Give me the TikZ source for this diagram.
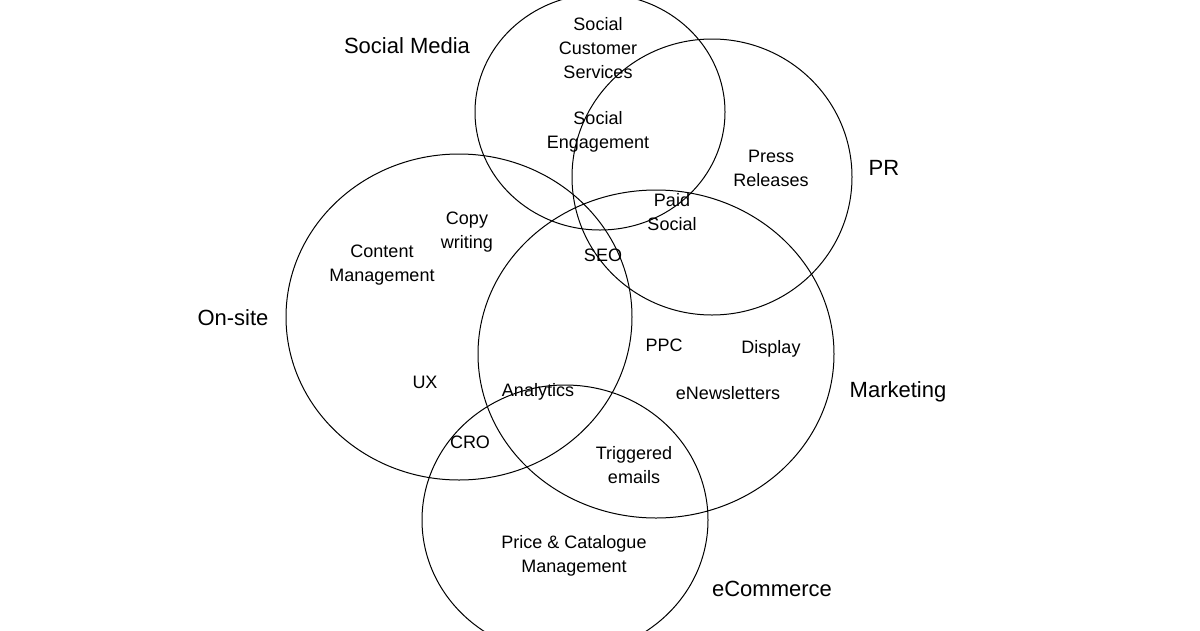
\documentclass[tikz,border=0pt]{standalone}
\usepackage{fontspec}
\setmainfont{Liberation Sans}
\begin{document}
\begin{tikzpicture}[x=1pt,y=-1pt,
  ring/.style={draw,line width=1pt},
  lbl/.style={font=\fontsize{18}{24}\selectfont,align=center},
  ttl/.style={font=\fontsize{22}{26}\selectfont}]
\useasboundingbox (0,0) rectangle (1200,630);
\begin{scope}
\clip (0,0) rectangle (1200,630);
\draw[ring] (600,112) ellipse [x radius=125,y radius=118];
\draw[ring] (712,177) ellipse [x radius=140,y radius=138];
\draw[ring] (459,317) ellipse [x radius=173,y radius=163];
\draw[ring] (656,354) ellipse [x radius=178,y radius=164];
\draw[ring] (565,520) ellipse [x radius=143,y radius=135];
\end{scope}
\node[ttl] (tsm) at (407,46) {Social Media};
\node[ttl] (tpr) at (884,168) {PR};
\node[ttl] (tos) at (233,318) {On-site};
\node[ttl] (tmk) at (898,392) {Marketing};
\node[ttl] (tec) at (772,589) {eCommerce};
\node[lbl] (scs) at (598,48) {Social\\Customer\\Services};
\node[lbl] (se) at (598,132) {Social\\Engagement};
\node[lbl] (prr) at (771,168) {Press\\Releases};
\node[lbl] (ps) at (672,212) {Paid\\Social};
\node[lbl] (cw) at (467,232) {Copy\\writing};
\node[lbl] (cm) at (382,265) {Content\\Management};
\node[lbl] (seo) at (603,255) {SEO};
\node[lbl] (ppc) at (664,345) {PPC};
\node[lbl] (dsp) at (771,349) {Display};
\node[lbl] (ux) at (425,382) {UX};
\node[lbl] (an) at (538,392) {Analytics};
\node[lbl] (en) at (728,393) {eNewsletters};
\node[lbl] (cro) at (470,442) {CRO};
\node[lbl] (te) at (634,465) {Triggered\\emails};
\node[lbl] (pcm) at (574,556) {Price \& Catalogue\\Management};
\end{tikzpicture}
\end{document}
